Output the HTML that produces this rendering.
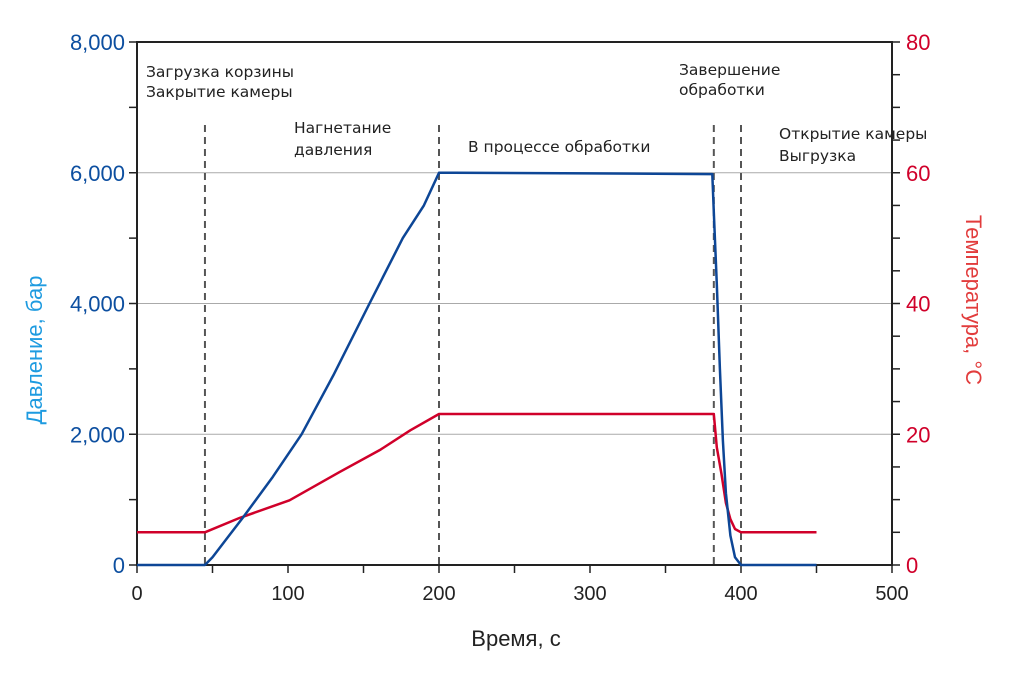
<!DOCTYPE html>
<html><head><meta charset="utf-8"><style>
body{margin:0;background:#fff;width:1014px;height:679px;overflow:hidden}
svg{font-family:"Liberation Sans","DejaVu Sans",sans-serif}
.ann{font-family:"DejaVu Sans","Liberation Sans",sans-serif;font-size:15.5px;fill:#222}
</style></head><body>
<svg id="chart" width="1014" height="679" viewBox="0 0 1014 679"></svg>
<script>
const timeP=[0,40,45,50,60,70,90,109,130,154,176,190,200,210,300,381,382,384,386,388,390,393,396,400,420,450];
const pressure=[0,0,0,120,420,720,1350,2000,2900,4000,5000,5500,6000,6000,5990,5980,5400,4300,3000,1900,1100,450,120,0,0,0];
const timeT=[0,40,45,68,101,134,161,181,200,210,300,381,382,384,387,390,393,396,400,420,450];
const temperature=[5,5,5,7.2,9.9,14.2,17.6,20.6,23.1,23.1,23.1,23.1,23.1,18,14,9.5,7,5.5,5,5,5];
const xTicks=[0,100,200,300,400,500];
const yTicksL=[0,2000,4000,6000,8000];
const yTicksR=[0,20,40,60,80];
const phaseLines=[45,200,382,400];

const X0=137,X1=892,Y0=565,Y1=42;
const x=t=>X0+(t/500)*(X1-X0);
const yL=v=>Y0-(v/8000)*(Y0-Y1);
const yR=v=>Y0-(v/80)*(Y0-Y1);
const svg=document.getElementById('chart');
const NS='http://www.w3.org/2000/svg';
function mk(tag,attrs,parent){const e=document.createElementNS(NS,tag);for(const k in attrs)e.setAttribute(k,attrs[k]);(parent||svg).appendChild(e);return e;}

for(const v of yTicksL){if(v===0||v===8000)continue;
 const g=mk('line',{x1:X0,x2:X1,y1:yL(v),y2:yL(v),stroke:'#aaa','stroke-width':1});
 
 }
const f=mk('path',{d:`M${X0},${Y1}H${X1}V${Y0}H${X0}Z`,fill:'none',stroke:'#222','stroke-width':2});


for(let v=0;v<=8000;v+=1000){const t=mk('line',{x1:X0-8,x2:X0,y1:yL(v),y2:yL(v),stroke:'#222','stroke-width':1.5});
 
 }
for(let v=0;v<=80;v+=5){const t=mk('line',{x1:X1,x2:X1+8,y1:yR(v),y2:yR(v),stroke:'#222','stroke-width':1.5});
 
 }
for(let v=0;v<=500;v+=50){const t=mk('line',{x1:x(v),x2:x(v),y1:Y0,y2:Y0+8,stroke:'#222','stroke-width':1.5});
 
 }
for(const v of yTicksL){const t=mk('text',{x:X0-12,y:yL(v)+8,'text-anchor':'end','font-size':22,fill:'#0d4fa0'});t.textContent=v.toLocaleString('en-US');
 
 }
for(const v of yTicksR){const t=mk('text',{x:X1+14,y:yR(v)+8,'font-size':22,fill:'#d0002a'});t.textContent=v;
 
 }
for(const v of xTicks){const t=mk('text',{x:x(v),y:600,'text-anchor':'middle','font-size':20,fill:'#222'});t.textContent=v;
 
 }
let t=mk('text',{x:516,y:646,'text-anchor':'middle','font-size':22,fill:'#222'});t.textContent='Время, с';


t=mk('text',{x:0,y:0,'text-anchor':'middle','font-size':22,fill:'#1e9be0',transform:'translate(42,350) rotate(-90)'});t.textContent='Давление, бар';


t=mk('text',{x:0,y:0,'text-anchor':'middle','font-size':22,fill:'#e23c3c',transform:'translate(966,300) rotate(90)'});t.textContent='Температура, °C';


for(const p of phaseLines){const l=mk('line',{x1:x(p),x2:x(p),y1:125,y2:Y0,stroke:'#555','stroke-width':2,'stroke-dasharray':'7,5'});
 
 }
const anns=[[146,77,'Загрузка корзины'],[146,97,'Закрытие камеры'],[294,133,'Нагнетание'],[294,155,'давления'],[468,152,'В процессе обработки'],[679,75,'Завершение'],[679,95,'обработки'],[779,139,'Открытие камеры'],[779,161,'Выгрузка']];
for(const a of anns){const e=mk('text',{x:a[0],y:a[1],class:'ann'});e.textContent=a[2];
 
 }
let d='';timeT.forEach((tt,i)=>{d+=(i?'L':'M')+x(tt).toFixed(1)+','+yR(temperature[i]).toFixed(1);});
let s=mk('path',{d,fill:'none',stroke:'#d0002a','stroke-width':2.5,'stroke-linejoin':'round'});


d='';timeP.forEach((tt,i)=>{d+=(i?'L':'M')+x(tt).toFixed(1)+','+yL(pressure[i]).toFixed(1);});
s=mk('path',{d,fill:'none',stroke:'#0d4696','stroke-width':2.5,'stroke-linejoin':'round'});


</script>
</body></html>
